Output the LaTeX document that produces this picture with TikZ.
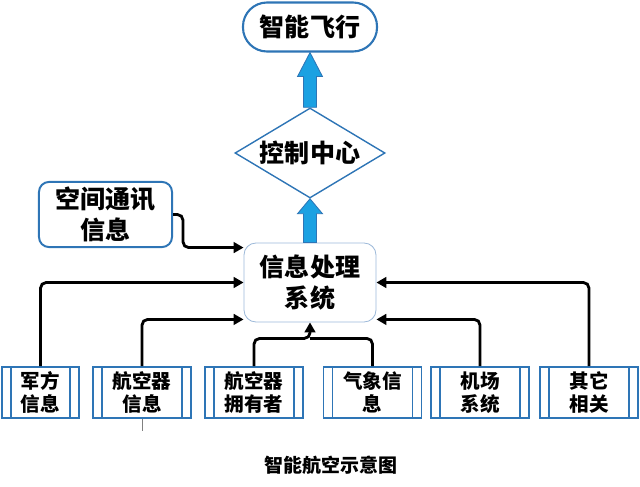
\documentclass[tikz,border=0pt]{standalone}
\usepackage{fontspec}
\setmainfont{Noto Sans CJK SC}
\usepackage{tikz}
\usetikzlibrary{arrows.meta,positioning,calc,shapes.geometric}
\definecolor{frameblue}{RGB}{46,117,182}
\definecolor{arrowblue}{RGB}{27,161,226}
\definecolor{softblue}{RGB}{157,185,217}
\newcommand{\bigtxt}{\fontsize{17.8}{22.5}\selectfont\bfseries}
\newcommand{\smalltxt}{\fontsize{13.9}{16.4}\selectfont\bfseries}
\newcommand{\blockup}[3]{%
  \draw[blk] ($(#1)+(-6.5,0)$) -- ($(#2)+(-6.5,#3)$) -- ($(#2)+(-12.5,#3)$) -- (#2)
    -- ($(#2)+(12.5,#3)$) -- ($(#2)+(6.5,#3)$) -- ($(#1)+(6.5,0)$) -- cycle;}
\tikzset{
  goal/.style={draw=frameblue, line width=1.5pt, rounded corners=0.6cm, minimum width=3.35cm, minimum height=1.225cm, font=\bigtxt},
  ctrl/.style={diamond, draw=frameblue, line width=1pt, aspect=1.667, minimum width=3.75cm, minimum height=2.25cm, inner sep=0pt, font=\bigtxt},
  proc/.style={draw=softblue, line width=0.6pt, rounded corners=0.3cm, minimum width=3.3cm, minimum height=1.975cm, align=center, font=\bigtxt},
  side/.style={draw=frameblue, line width=1.4pt, rounded corners=0.25cm, minimum width=3.325cm, minimum height=1.625cm, align=center, font=\bigtxt},
  src/.style={draw=frameblue, line width=1.4pt, minimum width=2.45cm, minimum height=1.275cm, inner sep=0pt, align=center, font=\smalltxt,
    path picture={\draw[frameblue, line width=1.4pt]
      ([xshift=0.225cm]path picture bounding box.north west) -- ([xshift=0.225cm]path picture bounding box.south west)
      ([xshift=-0.225cm]path picture bounding box.north east) -- ([xshift=-0.225cm]path picture bounding box.south east);}},
  flow/.style={-{Triangle[length=7pt,width=7.5pt]}, line width=2pt, rounded corners=4pt},
  feed/.style={line width=2pt, rounded corners=4pt},
  blk/.style={fill=arrowblue, draw=frameblue, line width=0.6pt},
}
\begin{document}
\begin{tikzpicture}[x=0.025cm,y=-0.025cm]
\useasboundingbox (0,0) rectangle (640,487);
% main column
\node[goal] (fly) at (310,27) {智能飞行};
\node[ctrl] (ctrl) at (310,153) {控制中心};
\node[proc] (proc) at (310,282.5) {信息处理\\系统};
\node[side] (comm) at (105.5,214.5) {空间通讯\\信息};
\blockup{ctrl.north}{fly.south}{24}
\blockup{proc.north}{ctrl.south}{15}
% sources
\node[src, minimum width=1.925cm] (mil) at (40.5,392.5) {军方\\信息};
\node[src] (acinfo) at (142,392.5) {航空器\\信息};
\node[src] (owner) at (254,392.5) {航空器\\拥有者};
\node[src] (wx) at (372.5,392.5) {气象信\\息};
\node[src] (apt) at (480,392.5) {机场\\系统};
\node[src] (oth) at (589,392.5) {其它\\相关};
\node[font=\fontsize{13.5}{16}\selectfont\bfseries] (cap) at (331,465) {智能航空示意图};
% connectors
\draw[flow] (comm.east) -- ++(10,0) |- ($(proc.north west)+(0,5)$);
\draw[flow] (mil.north) |- (proc.west);
\draw[flow] (acinfo.north) |- ($(proc.south west)+(0,-3)$);
\draw[flow] (owner.north) |- ($(proc.south)+(0,16)$) -- (proc.south);
\draw[feed] (wx.north) |- ($(proc.south)+(0,16)$);
\draw[flow] (apt.north) |- ($(proc.south east)+(0,-3)$);
\draw[flow] (oth.north) |- (proc.east);
\draw[gray, thin] (acinfo.south) -- ++(0,12);
\end{tikzpicture}
\end{document}
